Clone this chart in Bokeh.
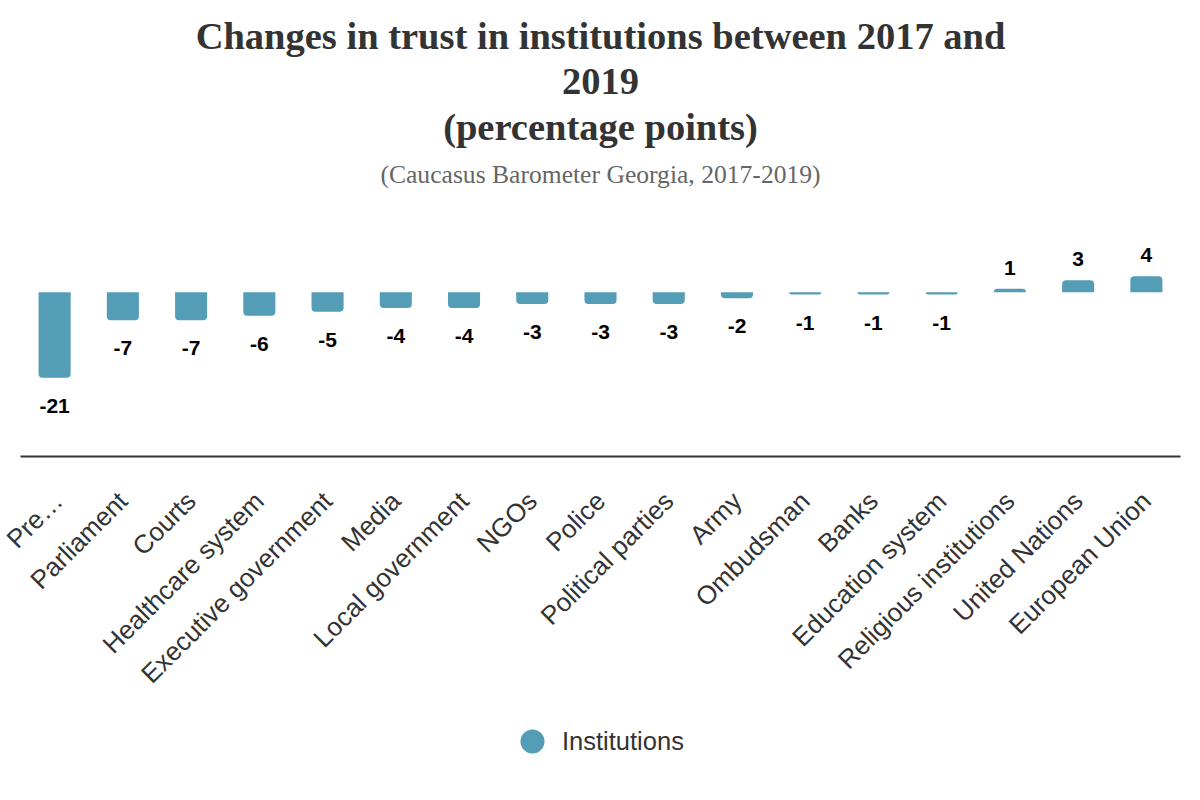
import math
from bokeh.plotting import figure
from bokeh.layouts import column
from bokeh.models import Range1d, Title, Legend, LegendItem, ColumnDataSource
from bokeh.embed import file_html
from bokeh.resources import INLINE
from bokeh.core.properties import value

categories = ["Pre…", "Parliament", "Courts", "Healthcare system",
              "Executive government", "Media", "Local government", "NGOs",
              "Police", "Political parties", "Army", "Ombudsman", "Banks",
              "Education system", "Religious institutions", "United Nations",
              "European Union"]
changes = [-21.0, -6.9, -6.9, -5.8, -4.8, -3.9, -3.9, -2.9, -2.9, -2.9,
           -1.5, -0.6, -0.6, -0.6, 0.85, 2.9, 3.9]
value_labels = ["-21", "-7", "-7", "-6", "-5", "-4", "-4", "-3", "-3", "-3",
                "-2", "-1", "-1", "-1", "1", "3", "4"]
series_name = "Institutions"

BAR = "#539db6"
DARK = "#333333"

neg = [i for i, v in enumerate(changes) if v < 0]
pos = [i for i, v in enumerate(changes) if v >= 0]

neg_src = ColumnDataSource(dict(
    x=[categories[i] for i in neg],
    v=[changes[i] for i in neg],
    z=[0] * len(neg),
    t=[value_labels[i] for i in neg]))
pos_src = ColumnDataSource(dict(
    x=[categories[i] for i in pos],
    v=[changes[i] for i in pos],
    z=[0] * len(pos),
    t=[value_labels[i] for i in pos]))

p = figure(x_range=categories, y_range=Range1d(-40.3, 24.2),
           frame_width=1160, frame_height=263,
           min_border_left=20, min_border_right=20, min_border_top=193,
           min_border_bottom=244,
           output_backend="svg", toolbar_location=None)
p.title.visible = False

p.vbar(x="x", top="z", bottom="v", width=0.47, source=neg_src,
       fill_color=BAR, line_color=None, border_radius=(0, 0, 4, 4))
p.vbar(x="x", top="v", bottom="z", width=0.47, source=pos_src,
       fill_color=BAR, line_color=None, border_radius=(4, 4, 0, 0))

lab = dict(text="t", text_align="center", text_baseline="middle",
           text_font=value("Liberation Sans"), text_font_style="bold",
           text_font_size="21px", text_color="black")
p.text(x="x", y="v", y_offset=28, source=neg_src, **lab)
p.text(x="x", y="v", y_offset=-21, source=pos_src, **lab)

p.yaxis.visible = False
p.xgrid.visible = False
p.ygrid.visible = False
p.outline_line_color = None
p.background_fill_color = "white"
p.border_fill_color = "white"

ax = p.xaxis[0]
ax.axis_line_color = DARK
ax.axis_line_width = 2
ax.major_tick_line_color = None
ax.minor_tick_line_color = None
ax.major_label_orientation = math.pi / 4
ax.major_label_text_font = "Liberation Sans"
ax.major_label_text_font_size = "26px"
ax.major_label_text_color = DARK
ax.major_label_standoff = 34

sub = Title(text="(Caucasus Barometer Georgia, 2017-2019)", align="center",
            text_font="Liberation Serif", text_font_size="25.6px",
            text_font_style="normal", text_color="#666666")
p.add_layout(sub, "above")
for line in ["(percentage points)", "2019",
             "Changes in trust in institutions between 2017 and"]:
    p.add_layout(Title(text=line, align="center", text_font="Liberation Serif",
                       text_font_size="38.5px", text_font_style="bold",
                       text_color=DARK), "above")

# legend strip below the chart (series swatch drawn by Bokeh's Legend)
q = figure(width=1200, height=100, x_range=categories,
           y_range=Range1d(-40.3, 24.2), min_border=0,
           output_backend="svg", toolbar_location=None)
q.axis.visible = False
q.grid.visible = False
q.outline_line_color = None
q.border_fill_color = "white"
leg_r = q.scatter(x=categories, y=changes, size=0, fill_color=BAR,
                  line_color=None)
legend = Legend(items=[LegendItem(label=series_name, renderers=[leg_r])],
                orientation="horizontal", location=(482, 31),
                border_line_color=None, background_fill_alpha=0,
                label_text_font="Liberation Sans", label_text_font_size="25.5px",
                label_text_color=DARK, glyph_width=60, glyph_height=60,
                label_standoff=0, padding=0, margin=0)
q.add_layout(legend, "center")

layout = column(p, q, spacing=0)
open("out.html", "w").write(file_html(layout, INLINE))
